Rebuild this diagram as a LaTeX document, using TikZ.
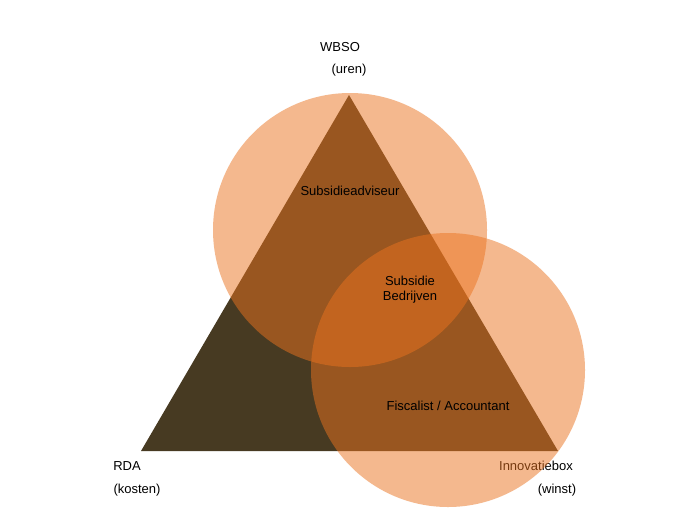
\documentclass[tikz,border=0pt]{standalone}
\usepackage{fontspec}
\setmainfont{Liberation Sans}
\begin{document}
\begin{tikzpicture}[x=1pt,y=-1pt,
  lbl/.style={font=\fontsize{13}{15}\selectfont,align=center,inner sep=0pt},
  circ/.style={fill={rgb,255:red,235;green,115;blue,31},fill opacity=0.5}]
\useasboundingbox[fill=white] (0,0) rectangle (700,525);
\fill[fill={rgb,255:red,71;green,58;blue,34}] (349,95) coordinate (t) -- (141,451) coordinate (l) -- (558,451) coordinate (r) -- cycle;
\node[lbl] (wbso) at (340,47) {WBSO};
\node[lbl] (uren) at (349,70) {(uren)};
\node[lbl] (rda) at (127,466) {RDA};
\node[lbl] (kosten) at (137,490) {(kosten)};
\node[lbl] (inno) at (536,466) {Innovatiebox};
\node[lbl] (winst) at (557,490) {(winst)};
\fill[circ] (350,230) circle (137);
\fill[circ] (448,370) circle (137);
\node[lbl] (sa) at (350,191) {Subsidieadviseur};
\node[lbl] (sb) at (410,290) {Subsidie\\Bedrijven};
\node[lbl] (fa) at (448,406) {Fiscalist / Accountant};
\end{tikzpicture}
\end{document}
